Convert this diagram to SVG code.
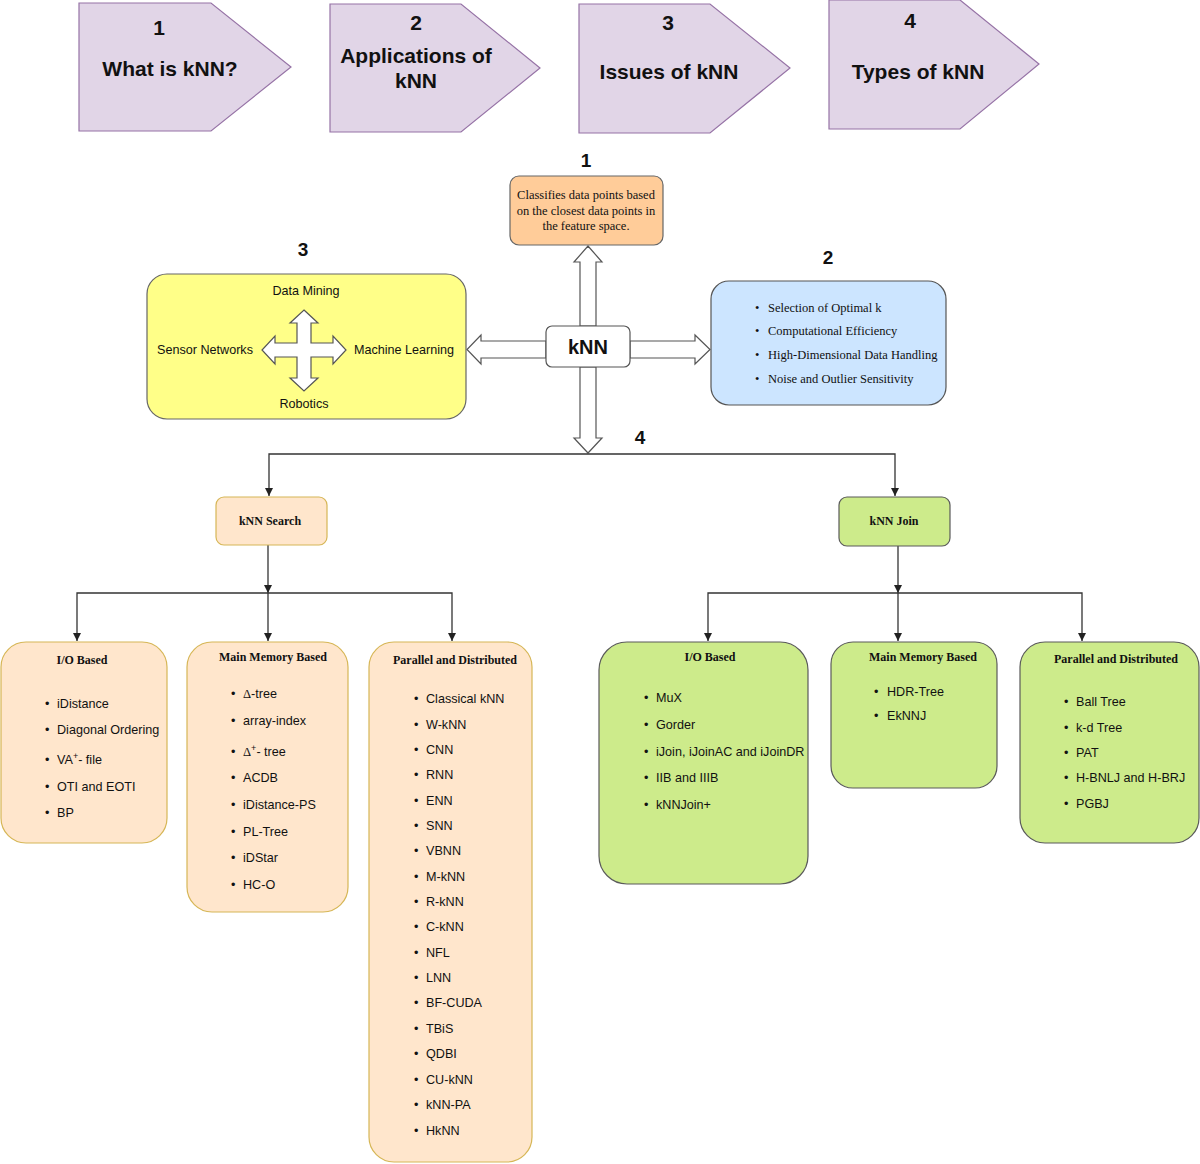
<svg xmlns="http://www.w3.org/2000/svg" width="1200" height="1164" viewBox="0 0 1200 1164">
<style>
.pent{fill:#e1d5e7;stroke:#9673a6;stroke-width:1.2}
.ht{font-family:"Liberation Sans",Arial,sans-serif;font-weight:bold;font-size:21px;fill:#111;text-anchor:middle}
.num{font-family:"Liberation Sans",Arial,sans-serif;font-weight:bold;font-size:19px;fill:#111;text-anchor:middle}
.sans{font-family:"Liberation Sans",Arial,sans-serif;font-size:12.6px;fill:#111}
.serif{font-family:"Liberation Serif","Times New Roman",serif;font-size:12.5px;fill:#111}
.title{font-family:"Liberation Serif","Times New Roman",serif;font-size:12px;font-weight:bold;fill:#111;text-anchor:middle}
.ctr{text-anchor:middle}
.blk{fill:#fff;stroke:#555;stroke-width:1.2}
.or{fill:#ffe6cc;stroke:#d6b656;stroke-width:1.2}
.gr{fill:#cdeb8b;stroke:#5a5a5a;stroke-width:1.2}
.conn path{fill:none;stroke:#333;stroke-width:1.3}
</style>
<defs>
<marker id="ah" markerUnits="userSpaceOnUse" markerWidth="8" markerHeight="8" refX="8" refY="4" orient="auto">
<path d="M0,0 L8,4 L0,8 z" fill="#222"/>
</marker>
</defs>

<!-- top pentagons -->
<g id="step1"><polygon class="pent" points="79,3 211,3 291,67 211,131 79,131"/><text class="ht" x="159" y="35">1</text><text class="ht" x="170" y="76">What is kNN?</text></g>
<g id="step2"><polygon class="pent" points="330,4 461,4 540,68 461,132 330,132"/><text class="ht" x="416" y="30">2</text><text class="ht" x="416" y="63">Applications of</text><text class="ht" x="416" y="88">kNN</text></g>
<g id="step3"><polygon class="pent" points="579,4 710,4 790,68 710,133 579,133"/><text class="ht" x="668" y="30">3</text><text class="ht" x="669" y="79">Issues of kNN</text></g>
<g id="step4"><polygon class="pent" points="829,0 960,0 1039,64 960,129 829,129"/><text class="ht" x="910" y="28">4</text><text class="ht" x="918" y="79">Types of kNN</text></g>

<!-- block arrows -->
<g id="block-arrows">
<polygon class="blk" points="580,326 580,262 574,262 588,246 602,262 596,262 596,326"/>
<polygon class="blk" points="580,367 580,438 574,438 588,453 602,438 596,438 596,367"/>
<polygon class="blk" points="546,341 481,341 481,335 467,349.5 481,364 481,358 546,358"/>
<polygon class="blk" points="630,341 695,341 695,335 710,349.5 695,364 695,358 630,358"/>
</g>

<!-- definition -->
<g id="definition">
<text class="num" x="586" y="167">1</text>
<rect x="510" y="176" width="153" height="69" rx="9" fill="#ffcc99" stroke="#666" stroke-width="1.2"/>
<text class="serif ctr" x="586" y="199" font-size="12">Classifies data points based</text>
<text class="serif ctr" x="586" y="215" font-size="12">on the closest data points in</text>
<text class="serif ctr" x="586" y="230" font-size="12">the feature space.</text>
</g>

<!-- center -->
<g id="knn">
<rect x="546" y="326" width="84" height="41" rx="6" fill="#fff" stroke="#555" stroke-width="1.2"/>
<text x="588" y="354" font-family="Liberation Sans, Arial, sans-serif" font-weight="bold" font-size="20" text-anchor="middle" fill="#111">kNN</text>
</g>

<!-- applications -->
<g id="applications">
<text class="num" x="303" y="256">3</text>
<rect x="147" y="274" width="319" height="145" rx="20" fill="#ffff88" stroke="#666" stroke-width="1.2"/>
<polygon class="blk" points="304,310 318,323 311,323 311,343 333,343 333,336 346,350 333,364 333,357 311,357 311,378 318,378 304,391 290,378 297,378 297,357 275,357 275,364 262,350 275,336 275,343 297,343 297,323 290,323"/>
<text class="sans ctr" x="306" y="295" font-size="12.3">Data Mining</text>
<text class="sans ctr" x="205" y="354" font-size="12.3">Sensor Networks</text>
<text class="sans ctr" x="404" y="354" font-size="12.3">Machine Learning</text>
<text class="sans ctr" x="304" y="408" font-size="12.3">Robotics</text>
</g>

<!-- issues -->
<g id="issues">
<text class="num" x="828" y="264">2</text>
<rect x="711" y="281" width="235" height="124" rx="18" fill="#cce5ff" stroke="#555" stroke-width="1.2"/>
<g class="serif">
<text x="755" y="312">•</text><text x="768" y="312">Selection of Optimal k</text>
<text x="755" y="335">•</text><text x="768" y="335">Computational Efficiency</text>
<text x="755" y="359">•</text><text x="768" y="359">High-Dimensional Data Handling</text>
<text x="755" y="383">•</text><text x="768" y="383">Noise and Outlier Sensitivity</text>
</g>
</g>

<text class="num" x="640" y="444">4</text>

<!-- connectors -->
<g class="conn" id="connectors">
<path d="M588,454 H269 V496" marker-end="url(#ah)"/>
<path d="M588,454 H895 V496" marker-end="url(#ah)"/>
<path d="M268,545 V593" marker-end="url(#ah)"/>
<path d="M268,593 H77 V641" marker-end="url(#ah)"/>
<path d="M268,593 V641" marker-end="url(#ah)"/>
<path d="M268,593 H452 V641" marker-end="url(#ah)"/>
<path d="M898,546 V593" marker-end="url(#ah)"/>
<path d="M898,593 H708 V641" marker-end="url(#ah)"/>
<path d="M898,593 V641" marker-end="url(#ah)"/>
<path d="M898,593 H1082 V641" marker-end="url(#ah)"/>
</g>

<g id="knn-search"><rect class="or" x="216" y="497" width="111" height="48" rx="8"/><text class="title" x="270" y="525">kNN Search</text></g>
<g id="knn-join"><rect class="gr" x="839" y="497" width="111" height="49" rx="8"/><text class="title" x="894" y="525">kNN Join</text></g>

<!-- search children -->
<g id="search-io">
<rect class="or" x="1" y="642" width="166" height="201" rx="25"/>
<text class="title" x="82" y="664">I/O Based</text>
<g class="sans">
<text x="45" y="708">•</text><text x="57" y="708">iDistance</text>
<text x="45" y="734">•</text><text x="57" y="734">Diagonal Ordering</text>
<text x="45" y="764">•</text><text x="57" y="764">VA<tspan dy="-5" font-size="9">+</tspan><tspan dy="5">- file</tspan></text>
<text x="45" y="791">•</text><text x="57" y="791">OTI and EOTI</text>
<text x="45" y="817">•</text><text x="57" y="817">BP</text>
</g>
</g>

<g id="search-mem">
<rect class="or" x="187" y="642" width="161" height="270" rx="25"/>
<text class="title" x="273" y="661">Main Memory Based</text>
<g class="sans">
<text x="231" y="698">•</text><text x="243" y="698"><tspan font-family="Liberation Serif, serif">Δ</tspan>-tree</text>
<text x="231" y="725">•</text><text x="243" y="725">array-index</text>
<text x="231" y="756">•</text><text x="243" y="756"><tspan font-family="Liberation Serif, serif">Δ</tspan><tspan dy="-5" font-size="9">+</tspan><tspan dy="5">- tree</tspan></text>
<text x="231" y="782">•</text><text x="243" y="782">ACDB</text>
<text x="231" y="809">•</text><text x="243" y="809">iDistance-PS</text>
<text x="231" y="836">•</text><text x="243" y="836">PL-Tree</text>
<text x="231" y="862">•</text><text x="243" y="862">iDStar</text>
<text x="231" y="889">•</text><text x="243" y="889">HC-O</text>
</g>
</g>

<g id="search-par">
<rect class="or" x="369" y="642" width="163" height="520" rx="25"/>
<text class="title" x="455" y="664">Parallel and Distributed</text>
<g class="sans">
<text x="414" y="703">•</text><text x="426" y="703">Classical kNN</text>
<text x="414" y="729">•</text><text x="426" y="729">W-kNN</text>
<text x="414" y="754">•</text><text x="426" y="754">CNN</text>
<text x="414" y="779">•</text><text x="426" y="779">RNN</text>
<text x="414" y="805">•</text><text x="426" y="805">ENN</text>
<text x="414" y="830">•</text><text x="426" y="830">SNN</text>
<text x="414" y="855">•</text><text x="426" y="855">VBNN</text>
<text x="414" y="881">•</text><text x="426" y="881">M-kNN</text>
<text x="414" y="906">•</text><text x="426" y="906">R-kNN</text>
<text x="414" y="931">•</text><text x="426" y="931">C-kNN</text>
<text x="414" y="957">•</text><text x="426" y="957">NFL</text>
<text x="414" y="982">•</text><text x="426" y="982">LNN</text>
<text x="414" y="1007">•</text><text x="426" y="1007">BF-CUDA</text>
<text x="414" y="1033">•</text><text x="426" y="1033">TBiS</text>
<text x="414" y="1058">•</text><text x="426" y="1058">QDBI</text>
<text x="414" y="1084">•</text><text x="426" y="1084">CU-kNN</text>
<text x="414" y="1109">•</text><text x="426" y="1109">kNN-PA</text>
<text x="414" y="1135">•</text><text x="426" y="1135">HkNN</text>
</g>
</g>

<!-- join children -->
<g id="join-io">
<rect class="gr" x="599" y="642" width="209" height="242" rx="28"/>
<text class="title" x="710" y="661">I/O Based</text>
<g class="sans">
<text x="644" y="702">•</text><text x="656" y="702">MuX</text>
<text x="644" y="729">•</text><text x="656" y="729">Gorder</text>
<text x="644" y="756">•</text><text x="656" y="756">iJoin, iJoinAC and iJoinDR</text>
<text x="644" y="782">•</text><text x="656" y="782">IIB and IIIB</text>
<text x="644" y="809">•</text><text x="656" y="809">kNNJoin+</text>
</g>
</g>

<g id="join-mem">
<rect class="gr" x="831" y="642" width="166" height="146" rx="22"/>
<text class="title" x="923" y="661">Main Memory Based</text>
<g class="sans">
<text x="874" y="696">•</text><text x="887" y="696">HDR-Tree</text>
<text x="874" y="720">•</text><text x="887" y="720">EkNNJ</text>
</g>
</g>

<g id="join-par">
<rect class="gr" x="1020" y="642" width="179" height="201" rx="25"/>
<text class="title" x="1116" y="663">Parallel and Distributed</text>
<g class="sans">
<text x="1064" y="706">•</text><text x="1076" y="706">Ball Tree</text>
<text x="1064" y="732">•</text><text x="1076" y="732">k-d Tree</text>
<text x="1064" y="757">•</text><text x="1076" y="757">PAT</text>
<text x="1064" y="782">•</text><text x="1076" y="782">H-BNLJ and H-BRJ</text>
<text x="1064" y="808">•</text><text x="1076" y="808">PGBJ</text>
</g>
</g>
</svg>
